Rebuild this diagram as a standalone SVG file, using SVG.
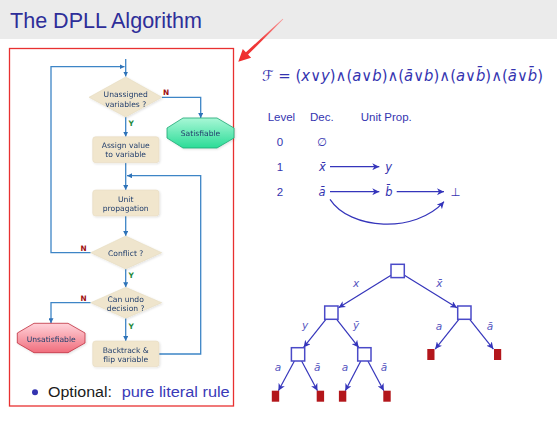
<svg xmlns="http://www.w3.org/2000/svg" width="557" height="421" viewBox="0 0 557 421">
<style>
.fc{fill:none;stroke:#3d85c6;stroke-width:1.3}
.nt{font-family:"DejaVu Sans",sans-serif;font-size:7.6px;fill:#24406e;text-anchor:middle}
.nl{font-family:"DejaVu Sans",sans-serif;font-size:7.4px;font-weight:bold;fill:#a01010}
.yl{font-family:"DejaVu Sans",sans-serif;font-size:7.4px;font-weight:bold;fill:#1c8a3a}
.dia{fill:#efe5cd;stroke:#e6dbc0;stroke-width:0.6}
.box{fill:#f1e6cd;stroke:#e8dcc2;stroke-width:0.6}
.m{font-family:"DejaVu Sans",sans-serif;fill:#3434b0}
.tb{font-family:"Liberation Sans",sans-serif;font-size:11.5px;fill:#3434b0}
.it{font-style:italic}
.te{fill:none;stroke:#3535bb;stroke-width:1.2}
.sq{fill:#fff;stroke:#4a4ac8;stroke-width:1.5}
.lf{fill:#b3161b}
.el{font-family:"DejaVu Sans",sans-serif;font-size:10.5px;font-style:italic;fill:#5555c0;text-anchor:middle}
</style>
<defs>
<marker id="fa" markerUnits="userSpaceOnUse" markerWidth="6" markerHeight="5" refX="5" refY="2.5" orient="auto">
<path d="M0,0 L5,2.5 L0,5 z" fill="#2f73b8"/>
</marker>
<marker id="ta" markerUnits="userSpaceOnUse" markerWidth="8" markerHeight="7" refX="7" refY="3.5" orient="auto">
<path d="M0,0 L7,3.5 L0,7 L2,3.5 z" fill="#3535bb"/>
</marker>
<linearGradient id="gs" x1="0" y1="0" x2="0" y2="1">
<stop offset="0" stop-color="#a8f7d6"/><stop offset="1" stop-color="#2bdc97"/>
</linearGradient>
<linearGradient id="gu" x1="0" y1="0" x2="0" y2="1">
<stop offset="0" stop-color="#ffd3da"/><stop offset="1" stop-color="#f06d7c"/>
</linearGradient>
<linearGradient id="gr" x1="1" y1="0" x2="0" y2="1">
<stop offset="0" stop-color="#f7a0a0"/><stop offset="0.5" stop-color="#f03c3c"/><stop offset="1" stop-color="#ee2a2a"/>
</linearGradient>
<filter id="sh" x="-20%" y="-20%" width="140%" height="140%">
<feDropShadow dx="1" dy="1" stdDeviation="1" flood-color="#000" flood-opacity="0.12"/>
</filter>
</defs>

<rect x="0" y="0" width="557" height="421" fill="#fff"/>
<rect x="0" y="0" width="557" height="39" fill="#ebebeb"/>
<text x="10" y="28.3" font-family="Liberation Sans, sans-serif" font-size="22" fill="#2e2e99" textLength="192" lengthAdjust="spacingAndGlyphs">The DPLL Algorithm</text>

<polygon fill="url(#gr)" points="283.3,19.3 248.1,54.6 251.1,57.8 238.3,61.7 242.8,49.1 245.9,52.3 282.7,18.7"/>
<rect x="9.5" y="48.5" width="224" height="357.5" fill="none" stroke="#e83030" stroke-width="1.3"/>

<g id="connectors">
<polyline class="fc" points="125.7,59 125.7,76.5" marker-end="url(#fa)"/>
<polyline class="fc" points="90.7,252.7 51,252.7 51,66.7 124.5,66.7" marker-end="url(#fa)"/>
<polyline class="fc" points="162,97.3 200.7,97.3 200.7,118" marker-end="url(#fa)"/>
<polyline class="fc" points="125.7,117 125.7,136.7" marker-end="url(#fa)"/>
<polyline class="fc" points="125.7,162.7 125.7,190" marker-end="url(#fa)"/>
<polyline class="fc" points="159,354 200.7,354 200.7,175.7 127,175.7" marker-end="url(#fa)"/>
<polyline class="fc" points="125.7,216 125.7,236" marker-end="url(#fa)"/>
<polyline class="fc" points="125.7,269 125.7,287.3" marker-end="url(#fa)"/>
<polyline class="fc" points="90.7,302.7 51,302.7 51,323.3" marker-end="url(#fa)"/>
<polyline class="fc" points="125.7,318.3 125.7,341" marker-end="url(#fa)"/>
<text class="nl" x="163" y="95">N</text>
<text class="yl" x="128.5" y="125.5">Y</text>
<text class="nl" x="80.5" y="250.5">N</text>
<text class="yl" x="128.5" y="277.5">Y</text>
<text class="nl" x="80.5" y="300.5">N</text>
<text class="yl" x="128.5" y="329">Y</text>
</g>

<g id="unassigned" filter="url(#sh)">
<polygon class="dia" points="125.7,77 162,97.3 125.7,117 89,97.3"/>
<text class="nt" x="125.7" y="97.3">Unassigned</text>
<text class="nt" x="125.7" y="106.6">variables ?</text>
</g>
<g id="satisfiable" filter="url(#sh)">
<polygon fill="url(#gs)" stroke="#1ea875" stroke-width="0.8" points="183,118 217,118 234,128 234,138 217,148 183,148 167,138 167,128"/>
<text class="nt" x="200.5" y="136">Satisfiable</text>
</g>
<g id="assign" filter="url(#sh)">
<rect class="box" x="92.7" y="136.7" width="66.3" height="26" rx="3"/>
<text class="nt" x="125.7" y="148">Assign value</text>
<text class="nt" x="125.7" y="157.3">to variable</text>
</g>
<g id="unitprop" filter="url(#sh)">
<rect class="box" x="92.7" y="190" width="66.3" height="26" rx="3"/>
<text class="nt" x="125.7" y="202.4">Unit</text>
<text class="nt" x="125.7" y="211.2">propagation</text>
</g>
<g id="conflict" filter="url(#sh)">
<polygon class="dia" points="125.7,236 161.7,252.7 125.7,269 90.7,252.7"/>
<text class="nt" x="125.7" y="255.8">Conflict ?</text>
</g>
<g id="canundo" filter="url(#sh)">
<polygon class="dia" points="125.7,287.3 161.7,302.7 125.7,318.3 90.7,302.7"/>
<text class="nt" x="125.7" y="301.5">Can undo</text>
<text class="nt" x="125.7" y="310.8">decision ?</text>
</g>
<g id="unsatisfiable" filter="url(#sh)">
<polygon fill="url(#gu)" stroke="#c0303f" stroke-width="0.8" points="34,323.3 68,323.3 85,333 85,343 68,352.7 34,352.7 17.3,343 17.3,333"/>
<text class="nt" x="51.2" y="341.5">Unsatisfiable</text>
</g>
<g id="backtrack" filter="url(#sh)">
<rect class="box" x="92.7" y="341" width="66.3" height="25.7" rx="3"/>
<text class="nt" x="125.7" y="352.6">Backtrack &amp;</text>
<text class="nt" x="125.7" y="361.9">flip variable</text>
</g>

<g id="bullet">
<circle cx="35" cy="392.3" r="3" fill="#3434b0"/>
<text x="48" y="397.3" font-family="Liberation Sans, sans-serif" font-size="15.5" fill="#1a1a1a" textLength="64" lengthAdjust="spacingAndGlyphs">Optional:</text>
<text x="121.7" y="397.3" font-family="Liberation Sans, sans-serif" font-size="15.5" fill="#3a3ab8" textLength="108" lengthAdjust="spacingAndGlyphs">pure literal rule</text>
</g>

<g id="formula">
<text class="m" x="262" y="81" font-size="15" textLength="281" lengthAdjust="spacingAndGlyphs"><tspan class="it">ℱ</tspan> = (<tspan class="it">x</tspan>∨<tspan class="it">y</tspan>)∧(<tspan class="it">a</tspan>∨<tspan class="it">b</tspan>)∧(<tspan class="it">ā</tspan>∨<tspan class="it">b</tspan>)∧(<tspan class="it">a</tspan>∨<tspan class="it">b̄</tspan>)∧(<tspan class="it">ā</tspan>∨<tspan class="it">b̄</tspan>)</text>
</g>

<g id="table">
<text class="tb" x="267.7" y="120.5">Level</text>
<text class="tb" x="310" y="120.5">Dec.</text>
<text class="tb" x="360.7" y="120.5">Unit Prop.</text>
<text class="tb" x="280" y="145.5" text-anchor="middle">0</text>
<text class="tb" x="280" y="170.5" text-anchor="middle">1</text>
<text class="tb" x="280" y="195.5" text-anchor="middle">2</text>
<text class="m it" x="322" y="145.5" font-size="11.5" text-anchor="middle">∅</text>
<text class="m it" x="322.5" y="170.5" font-size="11.5" text-anchor="middle">x̄</text>
<text class="m it" x="388.7" y="170.5" font-size="11.5" text-anchor="middle">y</text>
<text class="m it" x="322" y="195.5" font-size="11.5" text-anchor="middle">ā</text>
<text class="m it" x="389" y="195.5" font-size="11.5" text-anchor="middle">b̄</text>
<text class="m" x="455.5" y="195.5" font-size="11.5" text-anchor="middle">⊥</text>
<line class="te" x1="330" y1="166.7" x2="379.3" y2="166.7" marker-end="url(#ta)"/>
<line class="te" x1="330" y1="191.7" x2="379.3" y2="191.7" marker-end="url(#ta)"/>
<line class="te" x1="396.7" y1="191.7" x2="444" y2="191.7" marker-end="url(#ta)"/>
<path class="te" d="M330,199.3 C350,230 415,234 444,201.7" marker-end="url(#ta)"/>
</g>

<g id="tree-edges">
<line class="te" x1="391" y1="275.2" x2="338.5" y2="307.8" marker-end="url(#ta)"/>
<line class="te" x1="404.4" y1="275.2" x2="457" y2="307.8" marker-end="url(#ta)"/>
<line class="te" x1="325.9" y1="319.4" x2="303.6" y2="347.4" marker-end="url(#ta)"/>
<line class="te" x1="336.7" y1="319.4" x2="358.7" y2="347.4" marker-end="url(#ta)"/>
<line class="te" x1="458.9" y1="319.4" x2="435.2" y2="349" marker-end="url(#ta)"/>
<line class="te" x1="469.7" y1="319.4" x2="493.4" y2="349" marker-end="url(#ta)"/>
<line class="te" x1="294.4" y1="361" x2="278.4" y2="390.7" marker-end="url(#ta)"/>
<line class="te" x1="301.6" y1="361" x2="317.5" y2="390.7" marker-end="url(#ta)"/>
<line class="te" x1="360.8" y1="361" x2="345.3" y2="390.7" marker-end="url(#ta)"/>
<line class="te" x1="367.9" y1="361" x2="383.8" y2="390.7" marker-end="url(#ta)"/>
<text class="el" x="356" y="287">x</text>
<text class="el" x="439.3" y="287">x̄</text>
<text class="el" x="305" y="329">y</text>
<text class="el" x="356" y="329">ȳ</text>
<text class="el" x="439" y="329.5">a</text>
<text class="el" x="490" y="329.5">ā</text>
<text class="el" x="278" y="371">a</text>
<text class="el" x="317.3" y="371">ā</text>
<text class="el" x="345" y="371">a</text>
<text class="el" x="384" y="371">ā</text>
</g>
<g id="tree-nodes">
<rect class="sq" x="391" y="264.3" width="13.3" height="13.3"/>
<rect class="sq" x="324.7" y="306" width="13.3" height="13.3"/>
<rect class="sq" x="457.7" y="306" width="13.3" height="13.3"/>
<rect class="sq" x="291.4" y="347.7" width="13.3" height="13.3"/>
<rect class="sq" x="357.7" y="347.7" width="13.3" height="13.3"/>
<rect class="lf" x="427.3" y="349" width="7.2" height="11"/>
<rect class="lf" x="494" y="349" width="7.2" height="11"/>
<rect class="lf" x="271.8" y="390.7" width="7.4" height="11"/>
<rect class="lf" x="316.7" y="390.7" width="7.4" height="11"/>
<rect class="lf" x="338.9" y="390.7" width="7.4" height="11"/>
<rect class="lf" x="383.3" y="390.7" width="7.4" height="11"/>
</g>
</svg>
